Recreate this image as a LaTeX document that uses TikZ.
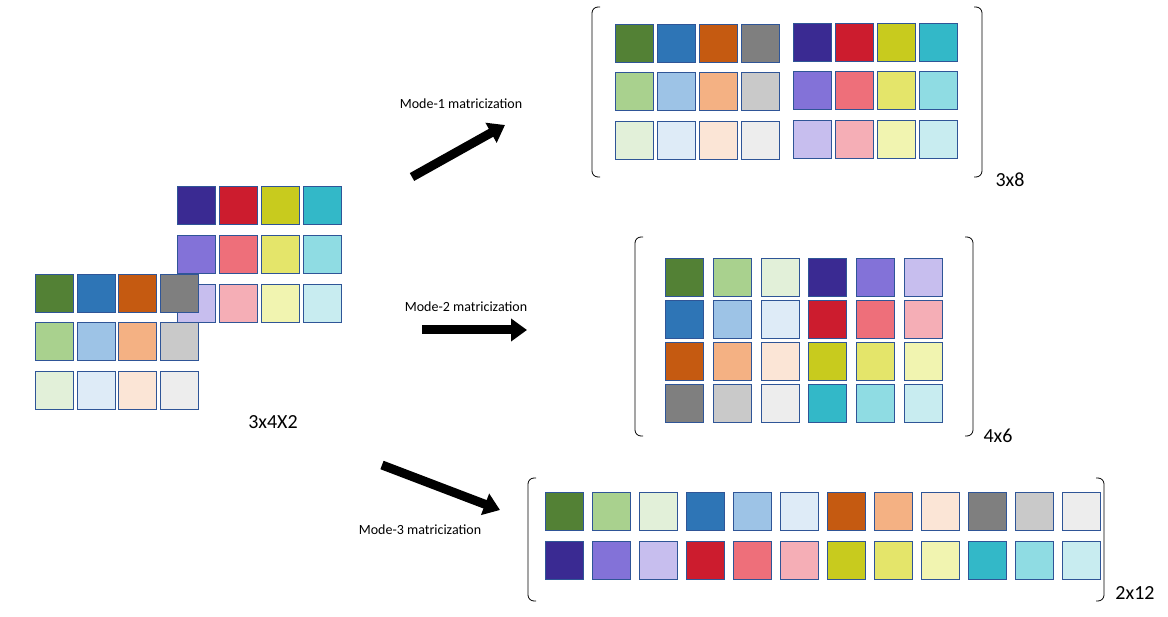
\documentclass[tikz,border=0pt]{standalone}
\usepackage{fontspec}
\setmainfont{Carlito}
\usetikzlibrary{arrows.meta}
\definecolor{Ga}{HTML}{538135}\definecolor{Gb}{HTML}{A9D18E}\definecolor{Gc}{HTML}{E2F0D9}
\definecolor{Ba}{HTML}{2E75B6}\definecolor{Bb}{HTML}{9DC3E6}\definecolor{Bc}{HTML}{DEEBF7}
\definecolor{Oa}{HTML}{C55A11}\definecolor{Ob}{HTML}{F4B183}\definecolor{Oc}{HTML}{FBE5D6}
\definecolor{Ka}{HTML}{7F7F7F}\definecolor{Kb}{HTML}{C9C9C9}\definecolor{Kc}{HTML}{EDEDED}
\definecolor{Pa}{HTML}{3A2A92}\definecolor{Pb}{HTML}{8372D8}\definecolor{Pc}{HTML}{C7BEEE}
\definecolor{Ra}{HTML}{CC1C2E}\definecolor{Rb}{HTML}{EE6F7A}\definecolor{Rc}{HTML}{F5AEB6}
\definecolor{Ya}{HTML}{C8CB1E}\definecolor{Yb}{HTML}{E4E56A}\definecolor{Yc}{HTML}{F1F4B0}
\definecolor{Ta}{HTML}{33B8C8}\definecolor{Tb}{HTML}{8FDCE3}\definecolor{Tc}{HTML}{C8ECF0}
\definecolor{edge}{HTML}{2F5597}
\tikzset{sq/.style={draw=edge,line width=0.6pt,minimum size=38pt,inner sep=0pt,anchor=north west},
brk/.style={draw=black,line width=0.8pt,rounded corners=6pt},
bigarrow/.style={line width=9pt,-{Triangle[length=16pt,width=22pt]}},
lab/.style={font=\fontsize{14}{16}\selectfont},
dim/.style={font=\fontsize{20}{22}\selectfont}}
\begin{document}
\begin{tikzpicture}[x=1pt,y=-1pt]
\useasboundingbox[fill=white] (0,0) rectangle (1168,617);
% original tensor: back slice
\foreach \c [count=\i] in {Pa,Ra,Ya,Ta}{
 \pgfmathsetmacro\xx{177+42*(\i-1)}
 \node[sq,fill=\c] (b1\i) at (\xx,186) {};}
\foreach \c [count=\i] in {Pb,Rb,Yb,Tb}{
 \pgfmathsetmacro\xx{177+42*(\i-1)}
 \node[sq,fill=\c] (b2\i) at (\xx,235) {};}
\foreach \c [count=\i] in {Pc,Rc,Yc,Tc}{
 \pgfmathsetmacro\xx{177+42*(\i-1)}
 \node[sq,fill=\c] (b3\i) at (\xx,284) {};}
% front slice
\foreach \c [count=\i] in {Ga,Ba,Oa,Ka}{
 \pgfmathsetmacro\xx{35+41.7*(\i-1)}
 \node[sq,fill=\c] (f1\i) at (\xx,274) {};}
\foreach \c [count=\i] in {Gb,Bb,Ob,Kb}{
 \pgfmathsetmacro\xx{35+41.7*(\i-1)}
 \node[sq,fill=\c] (f2\i) at (\xx,322) {};}
\foreach \c [count=\i] in {Gc,Bc,Oc,Kc}{
 \pgfmathsetmacro\xx{35+41.7*(\i-1)}
 \node[sq,fill=\c] (f3\i) at (\xx,371) {};}
\node[dim] (tdim) at (273,422) {3x4X2};
% mode-1
\foreach \c [count=\i] in {Ga,Ba,Oa,Ka}{\pgfmathsetmacro\xx{615+42*(\i-1)}\node[sq,fill=\c] (ma1\i) at (\xx,24) {};}
\foreach \c [count=\i] in {Gb,Bb,Ob,Kb}{\pgfmathsetmacro\xx{615+42*(\i-1)}\node[sq,fill=\c] (ma2\i) at (\xx,72) {};}
\foreach \c [count=\i] in {Gc,Bc,Oc,Kc}{\pgfmathsetmacro\xx{615+42*(\i-1)}\node[sq,fill=\c] (ma3\i) at (\xx,121) {};}
\foreach \c [count=\i] in {Pa,Ra,Ya,Ta}{\pgfmathsetmacro\xx{793+42*(\i-1)}\node[sq,fill=\c] (mb1\i) at (\xx,23) {};}
\foreach \c [count=\i] in {Pb,Rb,Yb,Tb}{\pgfmathsetmacro\xx{793+42*(\i-1)}\node[sq,fill=\c] (mb2\i) at (\xx,71) {};}
\foreach \c [count=\i] in {Pc,Rc,Yc,Tc}{\pgfmathsetmacro\xx{793+42*(\i-1)}\node[sq,fill=\c] (mb3\i) at (\xx,120) {};}
\draw[brk] (600,7) -- (592,7) -- (592,177) -- (600,177);
\draw[brk] (974,7) -- (982,7) -- (982,177) -- (974,177);
\node[dim] (d1) at (1010,180) {3x8};
\node[lab] (l1) at (461,104) {Mode-1 matricization};
\coordinate (a1s) at (412,177); \coordinate (a1e) at (505,125);
\draw[bigarrow] (a1s) -- (a1e);
% mode-2
\foreach \ca/\cb/\cc/\cd [count=\i] in {Ga/Ba/Oa/Ka,Gb/Bb/Ob/Kb,Gc/Bc/Oc/Kc,Pa/Ra/Ya/Ta,Pb/Rb/Yb/Tb,Pc/Rc/Yc/Tc}{
 \pgfmathsetmacro\xx{665+47.8*(\i-1)}
 \node[sq,fill=\ca] (n1\i) at (\xx,258) {};
 \node[sq,fill=\cb] (n2\i) at (\xx,300) {};
 \node[sq,fill=\cc] (n3\i) at (\xx,342) {};
 \node[sq,fill=\cd] (n4\i) at (\xx,384) {};}
\draw[brk] (643,237) -- (635,237) -- (635,436) -- (643,436);
\draw[brk] (965,237) -- (973,237) -- (973,436) -- (965,436);
\node[dim] (d2) at (998,436) {4x6};
\node[lab] (l2) at (466,307) {Mode-2 matricization};
\coordinate (a2s) at (422,330); \coordinate (a2e) at (527,330);
\draw[bigarrow] (a2s) -- (a2e);
% mode-3
\foreach \ca/\cb [count=\i] in {Ga/Pa,Gb/Pb,Gc/Pc,Ba/Ra,Bb/Rb,Bc/Rc,Oa/Ya,Ob/Yb,Oc/Yc,Ka/Ta,Kb/Tb,Kc/Tc}{
 \pgfmathsetmacro\xx{545+47*(\i-1)}
 \node[sq,fill=\ca] (p1\i) at (\xx,492) {};
 \node[sq,fill=\cb] (p2\i) at (\xx,541) {};}
\draw[brk] (536,478) -- (528,478) -- (528,601) -- (536,601);
\draw[brk] (1096,478) -- (1104,478) -- (1104,601) -- (1096,601);
\node[dim] (d3) at (1135,593) {2x12};
\node[lab] (l3) at (420,530) {Mode-3 matricization};
\coordinate (a3s) at (382,465); \coordinate (a3e) at (500,510);
\draw[bigarrow] (a3s) -- (a3e);
\end{tikzpicture}
\end{document}
